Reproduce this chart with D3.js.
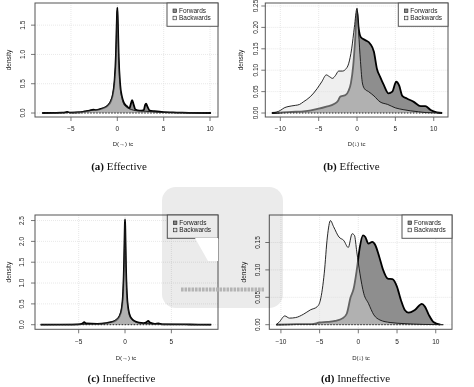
<!DOCTYPE html>
<html><head><meta charset="utf-8">
<script src="https://cdn.jsdelivr.net/npm/d3@7"></script>
<style>body{margin:0;background:#fff}svg{display:block}</style>
</head><body>
<script>
// ---------- DATA ----------
const seriesNames = ["Forwards", "Backwards"];
const captionLetters = ["(a)", "(b)", "(c)", "(d)"];
const captionTexts = ["Effective", "Effective", "Inneffective", "Inneffective"];
const xAxisLabels = ["D(\u2192) tc", "D(\u2193) tc", "D(\u2192) tc", "D(\u2193) tc"];

// (a) Effective, horizontal
const aForward = [[-8.1,0],[-7,0.003],[-6,0.005],[-5.6,0.012],[-5.4,0.02],[-5.1,0.006],[-4.2,0.01],[-3.5,0.028],[-3,0.04],[-2.6,0.058],[-2.3,0.05],[-1.8,0.07],[-1.4,0.09],[-1,0.13],[-0.7,0.2],[-0.5,0.3],[-0.3,0.55],[-0.15,1.0],[-0.05,1.6],[0,1.8],[0.05,1.6],[0.15,0.95],[0.3,0.5],[0.5,0.28],[0.7,0.18],[1,0.12],[1.3,0.08],[1.5,0.18],[1.6,0.22],[1.75,0.15],[1.95,0.06],[2.4,0.04],[2.85,0.05],[3.0,0.14],[3.1,0.16],[3.25,0.11],[3.5,0.04],[4,0.03],[5,0.015],[6,0.01],[7,0.005],[8,0.003],[10.1,0]];
const aBackward = [[-8.1,0],[-6,0.005],[-5,0.01],[-4,0.02],[-3,0.04],[-2.5,0.05],[-2,0.06],[-1.5,0.09],[-1,0.14],[-0.7,0.22],[-0.5,0.32],[-0.3,0.55],[-0.15,0.95],[-0.05,1.55],[0,1.75],[0.05,1.5],[0.15,0.9],[0.3,0.45],[0.5,0.25],[0.7,0.15],[1,0.1],[1.5,0.06],[2,0.04],[3,0.03],[4,0.02],[5,0.01],[6,0.008],[8,0.003],[10.1,0]];
const aXTicks = [-5, 0, 5, 10];
const aYTicks = [0, 0.5, 1.0, 1.5];

// (b) Effective, vertical
const bForward = [[-11.1,0],[-10,0.001],[-9,0.002],[-8,0.003],[-7,0.004],[-6,0.006],[-5,0.01],[-4,0.015],[-3,0.021],[-2.5,0.028],[-2.2,0.038],[-1.9,0.04],[-1.5,0.042],[-1.1,0.052],[-0.8,0.07],[-0.5,0.11],[-0.25,0.17],[0,0.24],[0.2,0.2],[0.5,0.177],[1.1,0.17],[1.7,0.162],[2.2,0.143],[2.6,0.103],[3,0.085],[3.5,0.065],[4.1,0.046],[4.6,0.05],[5.1,0.073],[5.5,0.064],[5.9,0.04],[6.5,0.034],[7.4,0.026],[8.3,0.016],[8.9,0.016],[9.6,0.007],[10.4,0.0015],[11.1,0]];
const bBackward = [[-11.1,0],[-10.5,0.002],[-10,0.006],[-9.5,0.012],[-9,0.015],[-8,0.018],[-7.5,0.02],[-7,0.026],[-6.1,0.038],[-5.2,0.057],[-4.6,0.073],[-4,0.089],[-3.6,0.085],[-3.2,0.081],[-2.8,0.088],[-2.4,0.098],[-1.9,0.098],[-1.5,0.102],[-1.1,0.115],[-0.7,0.15],[-0.35,0.2],[0,0.245],[0.2,0.19],[0.45,0.12],[0.7,0.07],[1,0.056],[1.5,0.05],[2.2,0.04],[3,0.026],[4,0.02],[5,0.012],[6,0.008],[7,0.005],[8,0.003],[9,0.001],[11.1,0]];
const bXTicks = [-10, -5, 0, 5, 10];
const bYTicks = [0, 0.05, 0.10, 0.15, 0.20, 0.25];

// (c) Inneffective, horizontal
const cForward = [[-9.1,0],[-7,0.003],[-5,0.01],[-4.6,0.03],[-4.4,0.06],[-4.2,0.03],[-3,0.02],[-2,0.04],[-1.5,0.06],[-1,0.1],[-0.6,0.2],[-0.35,0.4],[-0.2,0.8],[-0.1,1.5],[-0.03,2.3],[0,2.53],[0.03,2.3],[0.1,1.4],[0.2,0.75],[0.35,0.38],[0.6,0.18],[1,0.09],[1.5,0.05],[2,0.04],[2.3,0.06],[2.5,0.09],[2.7,0.05],[3.2,0.02],[3.6,0.03],[4,0.01],[5,0.01],[6,0.008],[7,0.005],[8,0.003],[9.3,0]];
const cBackward = [[-9.1,0],[-7,0.005],[-5,0.01],[-4,0.015],[-3,0.02],[-2,0.04],[-1.5,0.06],[-1,0.12],[-0.6,0.22],[-0.35,0.42],[-0.2,0.8],[-0.1,1.45],[-0.03,2.2],[0,2.45],[0.03,2.2],[0.1,1.35],[0.2,0.7],[0.35,0.35],[0.6,0.16],[1,0.08],[1.5,0.04],[2,0.03],[3,0.02],[4,0.015],[5,0.01],[7,0.005],[9.3,0]];
const cXTicks = [-5, 0, 5];
const cYTicks = [0, 0.5, 1.0, 1.5, 2.0, 2.5];

// (d) Inneffective, vertical
const dForward = [[-10.6,0],[-8,0.001],[-6,0.001],[-5,0.004],[-4,0.005],[-3,0.007],[-2,0.012],[-1.5,0.02],[-1,0.05],[-0.6,0.066],[-0.2,0.1],[0.2,0.142],[0.6,0.163],[0.9,0.16],[1.3,0.148],[1.8,0.151],[2.2,0.145],[2.7,0.124],[3.2,0.1],[3.8,0.084],[4.4,0.083],[5.0,0.069],[5.5,0.045],[6.0,0.027],[6.5,0.022],[7.3,0.027],[8.2,0.038],[8.6,0.033],[9.1,0.018],[9.7,0.005],[10.6,0]];
const dBackward = [[-10.6,0],[-10.2,0.005],[-9.5,0.016],[-8.9,0.012],[-8.1,0.013],[-7.1,0.019],[-6.2,0.027],[-5.3,0.033],[-4.9,0.045],[-4.4,0.094],[-4.0,0.16],[-3.6,0.19],[-3.2,0.179],[-2.5,0.16],[-1.9,0.154],[-1.3,0.141],[-0.8,0.166],[-0.5,0.163],[-0.2,0.133],[0.2,0.094],[0.7,0.057],[1.3,0.039],[2.0,0.018],[2.8,0.0085],[4.1,0.004],[5.9,0.002],[8.4,0.0005],[11,0]];
const dXTicks = [-10, -5, 0, 5, 10];
const dYTicks = [0, 0.05, 0.10, 0.15];

// ---------- LAYOUT ----------
const panels = [
  {l:35, r:218, t:3, b:117, xd:[-8.88,10.86], yd:[-0.068,1.878], fwd:aForward, bwd:aBackward, xt:aXTicks, yt:aYTicks, yf:d3.format(".1f"), ylx:23, dlx:9, xlx:123, xly:146, capx:119, capy:169.5, txly:131, lgL:167},
  {l:265.3, r:448, t:3, b:117, xd:[-11.96,11.86], yd:[-0.0093,0.2570], fwd:bForward, bwd:bBackward, xt:bXTicks, yt:bYTicks, yf:d3.format(".2f"), ylx:255.5, dlx:241, xlx:356.7, xly:146, capx:351.5, capy:169.5, txly:131, lgL:398.3},
  {l:35, r:218, t:215, b:329.3, xd:[-9.71,10.03], yd:[-0.110,2.633], fwd:cForward, bwd:cBackward, xt:cXTicks, yt:cYTicks, yf:d3.format(".1f"), ylx:22, dlx:9, xlx:126, xly:359.5, capx:121.5, capy:382, txly:344, lgL:167.3},
  {l:269.3, r:452, t:215, b:329.3, xd:[-11.5,12.1], yd:[-0.0084,0.2002], fwd:dForward, bwd:dBackward, xt:dXTicks, yt:dYTicks, yf:d3.format(".2f"), ylx:258, dlx:244, xlx:361, xly:359.5, capx:355.5, capy:382, txly:344, lgL:402}
];

const svg = d3.select("body").append("svg").attr("width", 474).attr("height", 387);
svg.append("rect").attr("width", 474).attr("height", 387).attr("fill", "#fff");
const sans = "Liberation Sans, Arial, Helvetica, sans-serif";
const serif = "Liberation Serif, Times New Roman, serif";
const fwdFill = "#8e8e8e", bwdFill = "rgba(220,220,220,0.45)";

panels.forEach((p, i) => {
  const g = svg.append("g");
  const x = d3.scaleLinear().domain(p.xd).range([p.l, p.r]);
  const y = d3.scaleLinear().domain(p.yd).range([p.b, p.t]);

  // grid
  g.selectAll(".gx").data(p.xt).join("line")
    .attr("x1", d => x(d)).attr("x2", d => x(d)).attr("y1", p.t).attr("y2", p.b)
    .attr("stroke", "#e2e2e2").attr("stroke-width", 0.8).attr("stroke-dasharray", "1,1");
  g.selectAll(".gy").data(p.yt).join("line")
    .attr("y1", d => y(d)).attr("y2", d => y(d)).attr("x1", p.l).attr("x2", p.r)
    .attr("stroke", "#e2e2e2").attr("stroke-width", 0.8).attr("stroke-dasharray", "1,1");

  const area = d3.area().x(d => x(d[0])).y0(y(0)).y1(d => y(d[1])).curve(d3.curveMonotoneX);
  const line = d3.line().x(d => x(d[0])).y(d => y(d[1])).curve(d3.curveMonotoneX);

  g.append("path").datum(p.fwd).attr("d", area).attr("fill", fwdFill);
  g.append("path").datum(p.fwd).attr("d", line).attr("fill", "none").attr("stroke", "#000").attr("stroke-width", 1.8).attr("stroke-linejoin", "round");
  g.append("path").datum(p.bwd).attr("d", area).attr("fill", bwdFill);
  g.append("path").datum(p.bwd).attr("d", line).attr("fill", "none").attr("stroke", "#111").attr("stroke-width", 0.9);

  // dotted baseline
  const ext = d3.extent(p.fwd.concat(p.bwd), d => d[0]);
  g.append("line").attr("x1", x(ext[0])).attr("x2", x(ext[1])).attr("y1", y(0)).attr("y2", y(0))
    .attr("stroke", "#222").attr("stroke-width", 1).attr("stroke-dasharray", "1.5,1.5");

  // box
  g.append("rect").attr("x", p.l).attr("y", p.t).attr("width", p.r - p.l).attr("height", p.b - p.t)
    .attr("fill", "none").attr("stroke", "#555").attr("stroke-width", 1);

  // x axis ticks + labels
  g.selectAll(".xt").data(p.xt).join("line")
    .attr("x1", d => x(d)).attr("x2", d => x(d)).attr("y1", p.b).attr("y2", p.b + 4)
    .attr("stroke", "#555").attr("stroke-width", 0.8);
  g.selectAll(".xtl").data(p.xt).join("text")
    .attr("x", d => x(d)).attr("y", p.txly).attr("text-anchor", "middle")
    .attr("font-family", sans).attr("font-size", 6.5).attr("fill", "#222")
    .text(d => d < 0 ? "\u2212" + Math.abs(d) : String(d));
  // y axis ticks + labels
  g.selectAll(".yt").data(p.yt).join("line")
    .attr("y1", d => y(d)).attr("y2", d => y(d)).attr("x1", p.l).attr("x2", p.l - 4)
    .attr("stroke", "#555").attr("stroke-width", 0.8);
  g.selectAll(".ytl").data(p.yt).join("text")
    .attr("transform", d => `translate(${p.ylx},${y(d)}) rotate(-90)`)
    .attr("text-anchor", "middle").attr("dy", "0.35em")
    .attr("font-family", sans).attr("font-size", 6.5).attr("fill", "#222")
    .text(d => p.yf(d));
  // axis titles
  g.append("text").attr("transform", `translate(${p.dlx},${(p.t + p.b) / 2}) rotate(-90)`)
    .attr("text-anchor", "middle").attr("dy", "0.35em")
    .attr("font-family", sans).attr("font-size", 6.5).attr("fill", "#222").text("density");
  g.append("text").attr("x", p.xlx).attr("y", p.xly).attr("text-anchor", "middle")
    .attr("font-family", sans).attr("font-size", 6).attr("fill", "#222").text(xAxisLabels[i]);

  // legend
  const lg = g.append("g");
  lg.append("rect").attr("x", p.lgL).attr("y", p.t).attr("width", p.r - p.lgL).attr("height", 23.3)
    .attr("fill", "#fff").attr("stroke", "#555").attr("stroke-width", 1);
  seriesNames.forEach((n, k) => {
    const cy = p.t + 8 + k * 7.2;
    lg.append("rect").attr("x", p.lgL + 6).attr("y", cy - 2).attr("width", 3.6).attr("height", 3.6)
      .attr("fill", k === 0 ? fwdFill : "#f4f4f4").attr("stroke", "#222").attr("stroke-width", 0.6);
    lg.append("text").attr("x", p.lgL + 12).attr("y", cy).attr("dy", "0.35em")
      .attr("font-family", sans).attr("font-size", 6.5).attr("fill", "#222").text(n);
  });

  // caption
  const cap = g.append("text").attr("x", p.capx).attr("y", p.capy).attr("text-anchor", "middle")
    .attr("font-family", serif).attr("font-size", 11).attr("fill", "#111");
  cap.append("tspan").attr("font-weight", "bold").text(captionLetters[i]);
  cap.append("tspan").text(" " + captionTexts[i]);
});

// watermark overlay (multiplied so dark marks stay dark)
const wm = svg.append("g");
wm.append("rect").attr("x", 162).attr("y", 187).attr("width", 121).attr("height", 121).attr("rx", 14)
  .attr("fill", "#ebebeb").style("mix-blend-mode", "multiply");
wm.append("path").attr("d", "M195,238 L218,238 L218,261 L208,261 Z").attr("fill", "#fff");
wm.append("line").attr("x1", 181).attr("x2", 264).attr("y1", 289.5).attr("y2", 289.5)
  .attr("stroke", "#b4b4b4").attr("stroke-width", 4).attr("stroke-dasharray", "2.6,0.9");
</script>
</body></html>
